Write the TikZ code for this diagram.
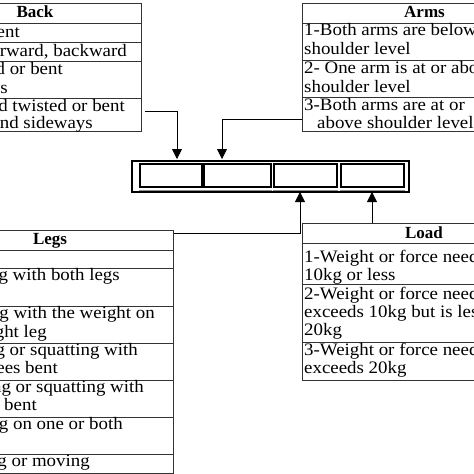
\documentclass[tikz,border=0pt]{standalone}
\usepackage{fontspec}
\setmainfont{Liberation Serif}
\newfontfamily\widefont[FakeStretch=1.08]{Liberation Serif}
\usetikzlibrary{arrows.meta}
\begin{document}
\begin{tikzpicture}[x=1pt,y=-1pt,
  tab/.style={draw=black!80, line width=0.9pt, inner sep=0pt, anchor=north west},
  rule/.style={draw=black!80, line width=0.9pt},
  cell/.style={font=\widefont\fontsize{17.5}{19}\selectfont, inner sep=0pt},
  cellL/.style={cell, anchor=base west},
  cellR/.style={cell, anchor=base east},
  head/.style={font=\fontsize{17}{19}\selectfont\bfseries, inner sep=0pt, anchor=base},
  conn/.style={draw=black, line width=0.8pt},
  arr/.style={conn, -{Triangle[length=10pt,width=10pt]}},
  slot/.style={draw=black, line width=1.5pt, inner sep=0pt, anchor=north west, minimum height=23pt},
  ]
\useasboundingbox (0,0) rectangle (474,474);
\clip (0,0) rectangle (474,474);
\fill[white] (0,0) rectangle (474,474);

% ---------- Back table ----------
\node[tab, minimum width=221pt, minimum height=128pt] (back) at (-80,3) {};
\foreach \yy in {23,42,61,98}{\draw[rule] (back.west |- 0,\yy) -- (back.east |- 0,\yy);}
\node[head] (backh) at (35,17.5) {Back};
\node[cellR] (bk1) at (20,37) {1-Not bent};
\node[cellR] (bk2) at (127,56) {2-Bent forward, backward};
\node[cellR] (bk3) at (63,74) {3-Twisted or bent};
\node[cellR] (bk3b) at (8,93) {sideways};
\node[cellR] (bk4) at (125,111) {4-Bent and twisted or bent};
\node[cellR] (bk4b) at (93,128) {forward and sideways};

% ---------- Arms table ----------
\node[tab, minimum width=245pt, minimum height=128pt] (arms) at (302,3) {};
\foreach \yy in {23,60,97}{\draw[rule] (arms.west |- 0,\yy) -- (arms.east |- 0,\yy);}
\node[head] (armsh) at (424.5,17) {Arms};
\node[cellL] (ar1) at (304,35) {1-Both arms are below};
\node[cellL] (ar1b) at (304,54) {shoulder level};
\node[cellL] (ar2) at (304,73) {2- One arm is at or above};
\node[cellL] (ar2b) at (304,92) {shoulder level};
\node[cellL] (ar3) at (304,110) {3-Both arms are at or};
\node[cellL] (ar3b) at (317,128) {above shoulder level};

% ---------- Legs table ----------
\node[tab, minimum width=246pt, minimum height=243pt] (legs) at (-73,230) {};
\foreach \yy in {250,268,306,343,380,417,454}{\draw[rule] (legs.west |- 0,\yy) -- (legs.east |- 0,\yy);}
\node[head] (legsh) at (50,244) {Legs};
\node[cellR] (lg2) at (120,280) {2-Standing with both legs};
\node[cellR] (lg3) at (155,318) {3-Standing with the weight on};
\node[cellR] (lg3b) at (47,337) {one straight leg};
\node[cellR] (lg4) at (138,355) {4-Standing or squatting with};
\node[cellR] (lg4b) at (58,373) {both knees bent};
\node[cellR] (lg5) at (144,392) {5-Standing or squatting with};
\node[cellR] (lg5b) at (37,410) {one knee bent};
\node[cellR] (lg6) at (123,429) {6-Kneeling on one or both};
\node[cellR] (lg7) at (90,466) {7-Walking or moving};

% ---------- Load table ----------
\node[tab, minimum width=244pt, minimum height=157pt] (load) at (302,223) {};
\foreach \yy in {243,284,342}{\draw[rule] (load.west |- 0,\yy) -- (load.east |- 0,\yy);}
\node[head] (loadh) at (424,238) {Load};
\node[cellL] (ld1) at (304,262) {1-Weight or force needed is};
\node[cellL] (ld1b) at (304,280) {10kg or less};
\node[cellL] (ld2) at (304,299) {2-Weight or force needed};
\node[cellL] (ld2b) at (304,317) {exceeds 10kg but is less than};
\node[cellL] (ld2c) at (304,335) {20kg};
\node[cellL] (ld3) at (304,355) {3-Weight or force needed};
\node[cellL] (ld3b) at (304,373) {exceeds 20kg};

% ---------- central code panel ----------
\node[draw=black, line width=1.8pt, inner sep=0pt, anchor=north west,
      minimum width=277pt, minimum height=31pt] (panel) at (131,160) {};
\node[slot, minimum width=62pt] (s1) at (139,163) {};
\node[slot, minimum width=67pt] (s2) at (203,163) {};
\node[slot, minimum width=63pt] (s3) at (273,163) {};
\node[slot, minimum width=63pt] (s4) at (340,163) {};
\foreach \s in {s1,s2,s3,s4}{
  \draw[black!45, line width=1pt] ([yshift=-2.5pt]\s.south west) -- ([yshift=-2.5pt]\s.south east);
}

% ---------- connectors ----------
\coordinate (backout) at ([xshift=3pt]back.east |- 0,111);
\coordinate (armsout) at (arms.west |- 0,119);
\coordinate (legsout) at (legs.east |- 0,233);
\coordinate (loadout) at (372,223);
\coordinate (in1) at (177,159);
\coordinate (in2) at (222,159);
\coordinate (in3) at (300,192);
\coordinate (in4) at (372,192);
\draw[arr] (backout) -| (in1);
\draw[arr] (armsout) -| (in2);
\draw[arr] (legsout) -| (in3);
\draw[arr] (loadout) -- (in4);
\end{tikzpicture}
\end{document}
